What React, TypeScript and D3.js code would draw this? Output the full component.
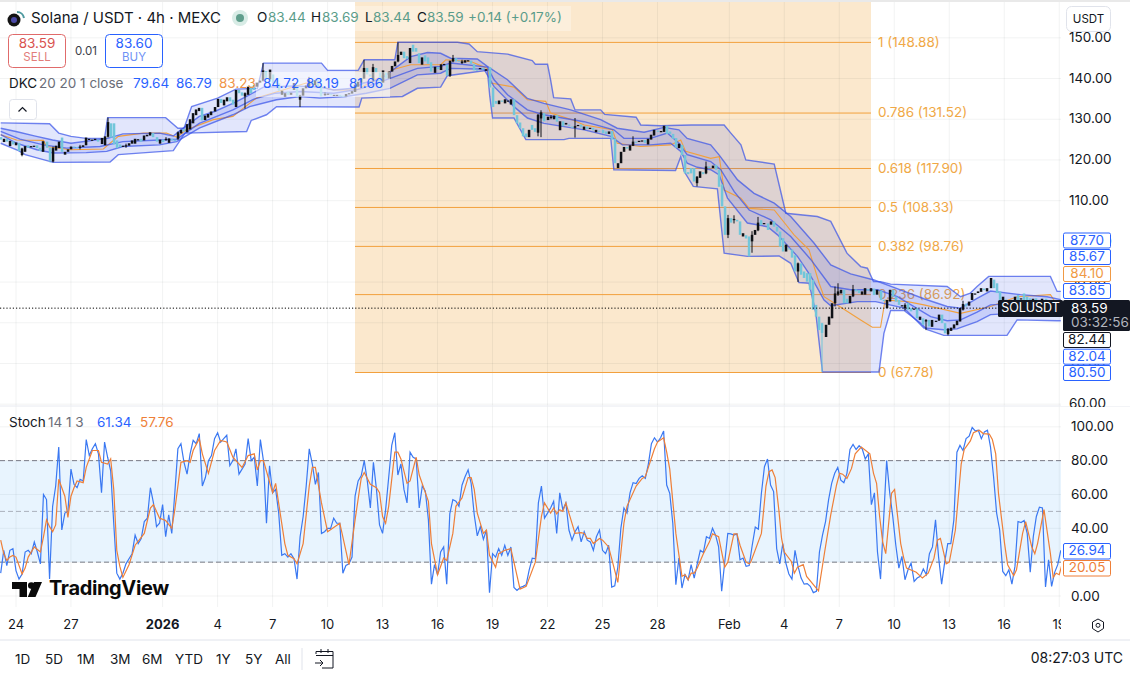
import React from "react";
import * as d3 from "d3";

const W = 1130, H = 676;
const FONT = "Inter, 'Liberation Sans', sans-serif";

const barOpens = [
125.6,124.4,125.2,123.4,124.6,123.6,124.2,121.2,122.0,123.6,
123.2,123.3,123.6,123.0,122.0,124.5,123,119.6,122.3,122.9,
125.5,121.3,122,122.6,123.3,123.2,123,123.2,123.6,125,
124.8,125.1,125,123.9,123.6,125.7,129,129,124.8,123.8,
123.2,123.4,123.5,124,124,125,125.2,124.8,125.8,126,
126.6,125.6,124,125,125,124.2,125.2,125,125.2,126.5,
127.6,126.8,127.5,129,131,132,132.8,129.8,130.4,131,
131.9,133,135,133.4,134.4,135.4,134.8,133,137.2,136.6,
135.6,136,138,138.4,138,139,139.5,141.8,139.8,141,
139.5,138.8,136,135.5,136.8,136,137.2,137.8,134.8,135.8,
137.6,138,139.3,138.4,139.5,138,136,136.1,136.2,135.9,
135.8,136,135.8,135.6,136.1,136.3,136.7,138,139,140,
142.6,141,139.7,142.6,141.5,139,141.5,140,141.7,143,
144.2,145.8,146.6,145.5,143.8,148.3,147.5,146.2,143.4,145.7,
145.2,144,141.4,142.8,142.1,143.4,143.4,140.7,144.2,145,
144.4,143.8,143.9,144.4,144.4,143.6,142.2,142.3,142.6,141.9,
142.8,137.8,134.5,133.7,134.6,133.9,134.5,133.6,134.9,131,
129.2,127.8,126.5,125.6,128.6,127.8,126.7,130.2,131.5,129.8,
130.5,130,131,127.3,129.5,128.7,128.7,128.2,127.9,128.4,
128.7,127.4,128.2,127.7,127.9,126.8,127.2,127.4,127,126.4,
127.1,125.2,118,119.2,122,123.2,122.3,123.5,124.5,124.5,
124.6,124.9,123.8,125,126,127.2,127,126.9,128.4,127,
126.4,125.4,122.9,123.7,121.2,117,118,118,114.3,115.6,
117,116.7,118.4,118,118.8,117.6,114,108.6,101.6,105.7,
105.3,105.3,104.9,101.2,101.5,101.2,100,101.6,102.7,105.2,
104.3,104.4,104.1,104.9,103.6,102.4,100.8,97.5,98.3,98,
96.6,92.6,94.6,92.6,92.2,92.2,90.5,84.4,81.5,79.9,
76.5,79.5,81.1,84.8,86.9,87.2,88.1,85.9,84.8,86.5,
88.2,88,86.9,86.9,88.3,87.7,88.4,86.9,87.9,85.6,
83.6,85.2,88.1,86.4,85.6,84.2,83.6,84.8,83.6,83.2,
83.6,80.7,81.1,80.3,80.7,79,80.2,80.5,82,79.9,
77.2,78,78.6,79.4,80.3,83.2,84.5,84.2,85.6,87,
87.3,87.6,88.4,87.7,88.5,90.6,89.7,87.7,85.2,85.6,
85.5,85,85.4,86.8,85.8,87.2,86.4,86,85.7,86,
85.2,85.4,85.9,84.6,83,84.6,83.4,83.44];

const barCloses = [
125,125.2,124.5,124.7,123.8,124.3,122.2,122.8,123.4,123,
123.4,123.5,122.9,122.2,124.6,123,119.8,122.9,123.5,124.5,
122,122,122.6,123.3,123,122.9,123.3,123.6,125.5,125.2,
125,125.2,124.5,125.4,125.8,129.3,125.5,123.8,122.9,123.2,
123.5,123.6,124.1,124.8,125.2,125.1,124.5,126,126.2,126.8,
125.6,124.5,125,124.4,125.2,125.3,124.8,124.6,126.8,127.4,
127,128.8,130,131.5,132.4,132.8,129.7,130.9,131.3,131.9,
133,135,134,134.8,135.4,134.4,133.6,137.2,136.4,135.8,
136.4,138,136.4,137.2,139,139.5,142,139.8,142.2,138.8,
138.8,137,137,136.4,136,136.5,138.9,135.5,135.8,137.6,
138.3,139.5,138.5,139.6,138,135.6,136.2,136.3,135.9,136,
136,135.6,135.5,136.2,136.4,136.9,138.5,139.2,140,142.6,
141,140.5,142.8,141.5,139,142,140,141.7,143.1,144.2,
145.8,146.6,145,144.8,147.5,146.6,146.6,143.8,145.2,144.2,
143.6,141.7,142.9,142.3,143.5,143.6,140.7,144.4,145,144.2,
144.2,144.2,144.5,144.5,143.6,142,142,142.6,142.2,142.3,
137.8,133,133.8,134.6,134.5,134.9,134.6,134.9,131,129,
127.8,125.8,125.6,127.4,127.4,126.9,131.1,131.7,129.5,130.6,
130.6,130.9,129.4,129.5,128.3,129.1,128.5,127.9,128.3,128.6,
128,128.2,127.6,127.9,127.3,127.4,127,126.6,126.4,127,
125,119.2,119.2,122,123.2,122.8,123.6,124.5,124.3,124.7,
124.8,124.2,125.2,126.2,127.4,127,127.1,128.4,126.4,126.4,
125.2,123,124,121.2,116.7,116.5,116.7,114.7,115.9,117.2,
116.5,118.4,118,118.6,117.6,113.4,108.6,101.6,105.7,104.6,
105.5,104.9,101.6,102,100.7,96.3,101.6,102.8,104.6,104,
104.5,102.8,104.9,103.6,102.4,98.7,97.5,99.2,98,96,
92.6,94.6,91.8,91,90.1,88.1,83.2,81.5,78.2,77.5,
79.5,81.5,84.8,87.2,87.7,88.1,84.8,84.8,86.6,88.2,
87.7,87.3,87.7,88.5,87.9,88.5,86.8,88.1,85.6,85.4,
85.6,88.1,86.4,85.2,84.4,84.3,84.4,83.2,82.8,83.5,
81.1,81.5,79.5,80.7,79.1,80.7,80.5,82,79.9,77.4,
78.5,78.8,79.6,80.5,83.6,84.6,84.2,85.2,87.3,87.2,
87.7,88.5,88,88.5,91,88.5,87.3,85.6,86.4,85.4,
85,85.6,86.4,85.6,86,85.6,85.4,85.5,85.9,85.2,
85.6,85.9,84.4,83.6,84.4,82.9,81.8,83.59];

const wickBars = [7,16,17,35,58,80,86,98,101,104,119,122,130,147,148,176,177,188,207,228,231,238,240,246,248,261,269,273,274,279,303,310,315,26,41,54,106,151,180,296,329,316];
const wickHighs = [123,123,123.3,130.4,127,136.6,143.8,136,140.4,140.2,144.6,143.6,148.9,141,145.8,131.3,132.2,130.3,125.8,116,119.6,106.5,106.4,102.5,106,94.8,80,88.9,89.7,89.3,80.9,78.7,85.4,123.7,124,125.6,136.6,144.6,131,84.8,85.9,84.8];
const wickLows = [120.9,119.4,119.4,125.5,124.9,132.6,139.3,133,138,137.6,140,139.2,144,140.4,144,125.8,125.6,125.5,123.4,113.5,116.5,100.8,104.4,97.2,102.5,90,67.9,84,86.6,86.3,78.2,76.9,83,122.6,123,124.7,135.8,143.6,130,83,85,83.8];

const upperBars = [0,16,19,23,28,34,35,54,58,60,62.5,71,77,84,86,105,107,117,119,129,130,149.5,153.3,156,166,174,175,179,180,181,186.6,188,196.4,197.7,208,209.5,216,226,236.8,239,242.3,243.9,253.2,254.8,257,267.3,271.7,277,281.5,283.7,285.7,288,291.3,309.8,314.2,317.4,319.6,323.4,343.6,345.8,347];
const upperVals = [129.1,128.9,126.6,125.8,125.3,125.3,130.4,130.4,127.8,127.8,133.1,135.2,137.4,137.6,143.8,143.8,142,142,144.6,144.6,148.9,148.9,148.5,146.6,146,144.4,143.5,143.5,139.7,135.3,135,132.3,132.3,131.2,130.5,128.6,128.4,128.6,128.6,126.6,123.7,120,119,113.9,106.9,106.1,104.9,97.1,93.8,93.4,90.1,90.1,89.5,88.9,86.4,87.3,88.9,91.4,91.4,87.7,87.7];

const innerUpBars = [0,5,11,17,23,35,40,52,56.5,59,65,70,76,80.5,86,90,96,104.5,109,115.4,118.7,124,129.9,134.2,139.7,144,147.3,156,159.3,165.9,172.4,177.8,186.6,196.4,201.8,210.6,217.1,222,224.7,232.4,235.2,241.2,246.6,253.2,258.6,266.2,271.7,278.2,285.9,294.5,302.2,309.8,314.2,319.6,324,333.8,342.5,347];
const innerUpVals = [127.8,127,125.9,124.9,124.1,125.3,126.4,126.6,125.9,127.4,130.7,131.9,133.9,135.6,137.9,138,138.2,137.9,137.2,137.6,138.9,139.7,143,145.4,146.4,146.2,145,144.8,143,139.7,135.1,133.9,132.3,129.9,127.8,126.8,128,127.4,125.3,123.7,121.2,115.1,111.8,109.4,106.1,99.6,94.2,92,90.5,88.1,85.9,84,83.6,86,87.8,86.9,86.4,85.67];

const midBars = [0,6.3,14,21.6,32.5,40,52,57.6,65,76,82.7,90,98,109,117.5,127.7,136.4,144,147.3,159.3,161.5,165.9,172.4,177.8,191,200.7,204,212.7,218.2,222,224.7,232.4,235.7,240.1,245,252.1,258.6,265.2,271.7,278.2,287,293.5,304.4,309.8,314.2,319.6,324,333.8,342.5,347];
const midVals = [127,125.1,123.7,122.9,123.3,124.5,124.9,125.1,129,132.3,134.9,136.4,136.8,136.4,137.4,140.1,142.5,143,143.8,142.8,139.7,136,132.3,131.1,129.4,127.4,125.3,125.3,126.6,124.1,121.3,119.6,117.6,112.2,107.7,105.3,101.2,95.5,88.9,88.1,88.1,86.4,81.5,80.5,80.7,82.6,84.4,84.8,84.4,83.85];

const innerLoBars = [0,5.2,11.8,17.2,28,34.7,40,52,57.6,65,76,81.5,90.3,98,104.5,113,119.7,127.4,136.4,144,147.3,158.2,161.5,168,172.4,177.8,191,199.7,203.5,212.7,219.3,222.6,224.7,228,232.4,235.2,237.9,244.4,251,254.3,260.8,265.2,269.5,271.7,280.4,286.4,295.7,302.2,308.7,313,319.6,324,331.6,342.5,347];
const innerLoVals = [126.2,124.1,122.5,121.7,121.8,122.1,123.3,123.7,124.5,127.8,131.1,133.1,134.8,135.6,135.2,135.6,136.4,137.6,140.9,141.3,142.5,142.3,138,133.1,130.3,129,127.4,125.8,123.7,123.7,124.1,122.1,119.2,118.2,117.6,116.3,110.6,104.5,103.6,101.6,96.3,91.4,85.6,84.2,85.2,85.2,83.6,78.7,78.3,78.5,80.3,82,82.3,82.1,82.04];

const lowerBars = [0,5.8,8,17.2,35.8,38.5,56.5,60.3,80.5,82,87,90.3,115.4,117.3,118.2,131.5,136.4,144,146.2,159.3,160.1,161,168,171.9,184.4,186,199.7,200.7,220.9,222.6,223.7,226.7,234.6,236.8,244.4,254.8,258.6,261.3,264.6,266.8,269,287.5,289.1,291.3,295.7,301.1,303.3,308.7,329.4,332.7,345.8,347];
const lowerVals = [124.1,122.3,121.3,119.4,119.5,121.3,122.3,126.6,127,129.7,131.1,133.1,133,133,135.2,135.6,137.6,137.9,140.7,142,135.6,130.3,130.3,125,125,125.3,125.3,117.6,117.4,120.8,117.2,113.5,112.9,97.1,96.3,96.4,94.6,89.9,89.7,82.4,67.9,67.9,77.4,83,83,79.9,78.3,76.9,76.9,80.7,80.5,80.5];

const orangeBars = [0,5.2,14,15,23,33.6,38.5,46.7,54.3,57.6,60.8,69.6,76,83.7,100,109,116.5,128.8,134.2,144,145.7,153.9,159.3,160.4,168,172.4,178.4,180,186.6,191,200.2,201.8,209.5,219.3,222.6,224.2,232.4,235.2,236.8,242.3,245,253.2,259.7,264.6,267.9,269.5,275,281.5,285.3,288,289.5,296.8,302.2,314.2,324,332.7,343.6,345.8,347];
const orangeVals = [126.2,124.9,124.8,123.3,122.5,122.7,125.8,126.6,126.6,125.6,127.4,129.9,130.7,135.2,138.9,137.2,137.2,142.3,143.4,143.4,144.6,144.2,142.5,138.9,137.9,134.8,134.4,131.5,130,128.6,127.4,124.1,123.3,123.7,124.9,122.1,120.4,120.8,112.6,110.6,108.1,107.7,101.6,97.9,89.7,86.4,83.8,80.7,78.9,78.9,85.6,85.2,84.4,82.3,84,86.4,86.9,84.4,84.1];

const stochK = [
13.5,27,18,27,28,15,10,13,26,27,25,32,26,19,60,57,10,53,65,88,39,49,50,75,66,64,69,68,92.5,83,
87,90,84,61,91,82,74,43,13.5,10,13.5,19,22,25,36,31,34,44,46,64,55,41,43,54,35,48,37,61,87,90,
79,72,84,92,90,96,65,70,80,83,93,96.5,91,93,95,77,80,87,72,75,78,93,80,82,65,92.5,80,43,77,61,
63,49,24,25,23,25,22,10,35,47,65,87,78,66,73,37,38,40,40,46,43,43,13.5,18,19,23,59,68,71,80,68,
52,79,63,42,37,51,70,89,96.5,71.5,78,63,55,85,82,81,52,65,62,45,7,18.5,12.5,26,29,7,48.5,57,56,53,
65.5,70.5,74.5,66.5,48,35.5,41,33.5,39,2,25,23,28,24,30,24,29,5,3.3,5,5.7,6.7,15.5,22.4,22,55,65,46,49,52,
56,37,61,51,55,39,33,38,41,32,38,33,32,27,35,39,27,25,30,5.3,6,17,40,52,49,61,67,66.5,69.5,71,
69.5,78,90,93.5,91,93.5,97.5,65.6,60.7,43,6.7,22.4,4.7,12.6,9.6,18.5,10.6,19,27,25.7,35,34,40,36,29,2.8,20,37,36.7,36,
36.7,21.4,22.4,17.5,18,
30,40.7,39.5,60.7,76.4,81,65.6,61.7,28,19,31,19.5,13,10,27,17.5,10.6,7,7.3,5.7,2,2.8,26,36,44,57,66.6,72.5,76,
68.5,67,72.5,86.6,89.6,86.6,88.8,87,81,84,54,61,26,10,45,80,61,47,30,16.5,23.4,9.6,15.5,19.5,8.6,10.6,11.6,16,12.6,25,
29,45,23,7,20,31,31,45,85,89,86,93,94.5,99.6,97.6,98,93,97,98,88,70.5,49,39,14.5,12,15.5,7,17.5,44,43.4,
44.6,37,14,35,47,52.5,52,5.3,21.4,5.7,14,18.5,27];

const stochDBars = [0,1,2,3,4,5,7,8,9,11,13,14,15,16,17,18,19,21,22,23,24,25,27,28,30,32,33,35,36,37,38,39,40,42,44,47,49,50,52,54,56,57,59,61,62,63,65,66,68,70,72,74,76,79,81,83,84,85,86,89,90,93,94,96,97,99,101,102,103,105,107,111,114,116,118,119,121,123,124,125,126,127,129,130,131,133,134,136,137,140,141,143,145,146,148,149,151,153,154,155,156,158,159,160,162,163,165,167,170,172,175,177,178,180,181,182,183,184,185,188,190,191,192,193,194,196,197,199,202,204,205,208,210,211,214,215,217,218,219,221,223,224,225,226,227,228,230,232,233,235,237,238,240,241,242,244,245,245.5,249,250.5,251.5,252.5,253.5,254.7,255.6,256.5,258.8,259.8,260.8,262.7,263.8,267.7,269.7,271.7,273.6,274.6,275.6,277,278.5,279.7,281.7,284.5,285.7,286.7,287.7,288.7,289.7,291.6,292.6,293.6,294.6,295.6,296.5,299.7,301.7,303.6,305.5,306.6,307.6,309.5,310.5,312.5,314.4,315.4,317.4,318.4,320.3,321.6,323.6,324.6,325.7,326.6,328.6,329.6,331.6,332.5,334.5,335.5,337.5,338.5,339.4,341.5,343.6,344.5,345.5,346.5,347.5];
const stochDVals = [33,25,21,23,24,23,13,16.5,23,29,26,35,45,41,38,42,69,59,46.5,59,64,68,67,76,86,86,79,78,81,63,27,17.5,11,18.5,30,37,52,54,46,44.6,40,51,79,80,79,86,93,84,72.5,86,92,91,82,76,83,84,74.5,80,80,61,66.6,31,24,22,19,31,65,76,76,55,38,43,18.5,45,69.5,73,66,64,61,47,43,53,85,85,81,66.6,68,82,71.5,56,31,12.6,22.4,21,37,53,58,70,70,63,49,37,39,24,17,25,27,28,4,5.7,20,47,55,49,52,48.5,51,50,55,37,37.5,37,34,34,31,34,33,29,8,43,53,65,69.5,70.5,87,91,93.5,85,75,37,11.6,12.6,9.6,13.5,13.5,16.5,25,32,36.7,35,17,20,36.7,36.7,30,20,19,20,37,65,73.5,74.5,70,51,34,26,20.4,13.5,17,18.5,11.6,3,26,48,65.6,72.5,72,69.5,75.4,84,88,84,72.5,66.6,47,32,25,60.7,63,47,31,22.4,16.5,14,10.6,13.5,22.4,33,34,19,20,39,78,86.6,91.7,96.5,98,96,95.7,92.5,84,60.7,31,18.5,12,15.5,37,44,29,25,31,51,25,11,13.5,12.6,19.5];

const priceTicks = [150,140,130,120,110,100,90,80,70,60];
const stochTicks = [100,80,60,40,20,0];
const timeTicks = [
  {b: 5,  t: "24"},{b: 23, t: "27"},{b: 53, t: "2026", bold: true},{b: 71, t: "4"},{b: 89, t: "7"},{b: 107, t: "10"},
  {b: 125, t: "13"},{b: 143, t: "16"},{b: 161, t: "19"},{b: 179, t: "22"},{b: 197, t: "25"},{b: 215, t: "28"},
  {b: 238.5, t: "Feb"},{b: 256.5, t: "4"},{b: 274.5, t: "7"},{b: 292.5, t: "10"},{b: 310.5, t: "13"},{b: 328.5, t: "16"},{b: 346.5, t: "19"},
];
const fibLevels = [
  {r:"1",v:148.88},{r:"0.786",v:131.52},{r:"0.618",v:117.90},{r:"0.5",v:108.33},{r:"0.382",v:98.76},{r:"0.236",v:86.92},{r:"0",v:67.78},
];
const axisTags = [
  {v:87.70,t:"87.70",c:"#2962ff"},{v:85.67,t:"85.67",c:"#2962ff"},{v:84.10,t:"84.10",c:"#f09a45"},{v:83.85,t:"83.85",c:"#2962ff"},
];
const lowerTags = [
  {y:340,t:"82.44",c:"#131722",b:"#131722"},{y:356.7,t:"82.04",c:"#2962ff",b:"#2962ff"},{y:373,t:"80.50",c:"#2962ff",b:"#2962ff"},
];
const upperTagY = [240.5,257,274,291];
const rangeBtns = [["1D",15],["5D",45],["1M",77],["3M",110],["6M",142],["YTD",175],["1Y",216],["5Y",245],["All",275]] as [string,number][];

const xBar = d3.scaleLinear().domain([0, 347]).range([0.7, 0.7 + 347 * 3.055]);
const yPrice = d3.scaleLinear().domain([67.78, 148.88]).range([372.5, 42.4]);
const yStoch = d3.scaleLinear().domain([0, 100]).range([596, 426.8]);

const C_UP = "#0f1116", C_DN = "#72c6da", BAND = "#3450e8", ORANGE = "#f2a03d", BLUE = "#2962ff", FIB_TXT = "#f0a846";

function pts(bars: number[], vals: number[]): [number, number][] {
  return bars.map((b, i) => [xBar(b), yPrice(vals[i])] as [number, number]);
}
const pl = d3.line();
function polygon(a: [number, number][], b: [number, number][]) {
  return (pl(a) || "") + "L" + (pl([...b].reverse()) || "").slice(1) + "Z";
}

export default function App() {
  const outerU = pts(upperBars, upperVals), outerL = pts(lowerBars, lowerVals);
  const innerU = pts(innerUpBars, innerUpVals), innerL = pts(innerLoBars, innerLoVals);
  const mid = pts(midBars, midVals), orange = pts(orangeBars, orangeVals);
  const fibX0 = 355, fibX1 = 871;
  const kPts = stochK.map((v, i) => [xBar(i), yStoch(v)] as [number, number]);
  const dPts = stochDBars.map((b, i) => [xBar(b), yStoch(stochDVals[i])] as [number, number]);
  const ty = (s: string, x: number, y: number, o: any = {}) => (
    <text x={x} y={y} fontSize={o.size ?? 13.5} fill={o.fill ?? "#131722"} fontWeight={o.w ?? 400} textAnchor={o.a ?? "start"} dominantBaseline="middle">{s}</text>
  );
  return (
    <svg width={W} height={H} viewBox={`0 0 ${W} ${H}`} style={{ position: "absolute", left: 0, top: 0, fontFamily: FONT, background: "#fff" }}>
      <defs>
        <clipPath id="pricePane"><rect x={0} y={0} width={1061} height={406} /></clipPath>
        <clipPath id="stochPane"><rect x={0} y={407} width={1061} height={200} /></clipPath>
        <clipPath id="timeAxis"><rect x={0} y={607} width={1061} height={33} /></clipPath>
      </defs>
      <rect x={0} y={0} width={W} height={H} fill="#fff" />
      <rect x={fibX0} y={2} width={fibX1 - fibX0} height={yPrice(67.78) - 2} fill="#fbe8cd" />
      {/* grid */}
      {priceTicks.map(t => <line key={t} x1={0} x2={1061} y1={yPrice(t)} y2={yPrice(t)} stroke="#2a2e39" strokeOpacity={0.06} />)}
      {timeTicks.map(t => <line key={t.t + t.b} x1={xBar(t.b)} x2={xBar(t.b)} y1={0} y2={607} stroke="#2a2e39" strokeOpacity={0.06} />)}
      {stochTicks.map(t => <line key={t} x1={0} x2={1061} y1={yStoch(t)} y2={yStoch(t)} stroke="#2a2e39" strokeOpacity={0.06} />)}
      {/* fib */}
      {fibLevels.map(f => (
        <g key={f.r}>
          <line x1={fibX0} x2={fibX1} y1={yPrice(f.v)} y2={yPrice(f.v)} stroke={ORANGE} strokeWidth={1} />
          {ty(`${f.r} (${f.v.toFixed(2)})`, 878, yPrice(f.v) + 0.5, { fill: FIB_TXT })}
        </g>
      ))}
      <g clipPath="url(#pricePane)">
        <path d={polygon(outerU, outerL)} fill={BAND} fillOpacity={0.14} />
        <path d={polygon(innerU, innerL)} fill={BAND} fillOpacity={0.15} />
        <path d={pl(orange) || ""} fill="none" stroke={ORANGE} strokeWidth={1.1} />
        {[outerU, outerL, innerU, innerL, mid].map((p, i) => (
          <path key={i} d={pl(p) || ""} fill="none" stroke={BAND} strokeOpacity={0.7} strokeWidth={1.4} />
        ))}
        {barOpens.map((o, i) => {
          const c = barCloses[i];
          const color = c >= o ? C_UP : C_DN;
          const x = Math.round(xBar(i));
          const top = yPrice(Math.max(o, c)), bot = yPrice(Math.min(o, c));
          const w = wickBars.indexOf(i);
          return (
            <g key={i}>
              {w >= 0 && <line x1={x} x2={x} y1={yPrice(wickHighs[w])} y2={yPrice(wickLows[w])} stroke={color} strokeWidth={1} />}
              <rect x={x - 1.2} y={top} width={2.5} height={Math.max(bot - top, 1.2)} fill={color} />
            </g>
          );
        })}
        <line x1={0} x2={1061} y1={yPrice(83.59)} y2={yPrice(83.59)} stroke="#000" strokeWidth={1} strokeDasharray="1.2 2" />
      </g>
      {/* stoch */}
      <rect x={0} y={yStoch(80)} width={1061} height={yStoch(20) - yStoch(80)} fill="#2196f3" fillOpacity={0.1} />
      <line x1={0} x2={1061} y1={yStoch(80)} y2={yStoch(80)} stroke="#787b86" strokeDasharray="5 3" />
      <line x1={0} x2={1061} y1={yStoch(50)} y2={yStoch(50)} stroke="#787b86" strokeOpacity={0.55} strokeDasharray="5 3" />
      <line x1={0} x2={1061} y1={yStoch(20)} y2={yStoch(20)} stroke="#787b86" strokeDasharray="5 3" />
      <g clipPath="url(#stochPane)">
        <path d={pl(kPts) || ""} fill="none" stroke="#3a78f2" strokeWidth={1.2} />
        <path d={pl(dPts) || ""} fill="none" stroke="#ee7f38" strokeWidth={1.2} />
      </g>
      {/* panes and axis separators */}
      <line x1={0} x2={W} y1={406} y2={406} stroke="#e8eaf0" />
      <line x1={0} x2={W} y1={640} y2={640} stroke="#e0e3eb" />
      <rect x={0} y={0} width={W} height={2} fill="#e9e9e9" />
      {/* price axis */}
      <rect x={1061} y={2} width={69} height={404} fill="#fff" />
      {priceTicks.map(t => <g key={t}>{ty(t.toFixed(2), 1069, yPrice(t) + 0.5)}</g>)}
      {/* stoch axis */}
      <rect x={1061} y={407} width={69} height={200} fill="#fff" />
      {[100,80,60,40,0].map(t => <g key={t}>{ty(t.toFixed(2), 1071, yStoch(t) + 1)}</g>)}
      {/* top right */}
      <rect x={1066.5} y={6.5} width={44} height={25} rx={5} fill="#fff" stroke="#e0e3eb" />
      {ty("USDT", 1088.5, 19.5, { a: "middle", size: 11.5 })}
      {/* price tags */}
      {axisTags.map((a, i) => (
        <g key={a.t}>
          <rect x={1063.5} y={upperTagY[i] - 7.5} width={47} height={15} rx={1.5} fill="#fff" stroke={a.c} />
          {ty(a.t, 1087, upperTagY[i] + 0.5, { fill: a.c, a: "middle" })}
        </g>
      ))}
      {lowerTags.map(a => (
        <g key={a.t}>
          <rect x={1063.5} y={a.y - 7.5} width={47} height={15} rx={1.5} fill="#fff" stroke={a.b} />
          {ty(a.t, 1087, a.y + 0.5, { fill: a.c, a: "middle" })}
        </g>
      ))}
      <rect x={998} y={300} width={65} height={17} rx={1.5} fill="#131722" />
      {ty("SOLUSDT", 1030.5, 309, { fill: "#fff", a: "middle", size: 12.5 })}
      <rect x={1063} y={300} width={67} height={31} rx={1.5} fill="#131722" />
      {ty("83.59", 1071, 309, { fill: "#fff" })}
      {ty("03:32:56", 1071, 323, { fill: "#b2b5be" })}
      {/* stoch tags */}
      <rect x={1063.5} y={543.5} width={47} height={15.5} rx={1.5} fill="#fff" stroke={BLUE} />
      {ty("26.94", 1087, 551.5, { fill: BLUE, a: "middle" })}
      <rect x={1063.5} y={560.5} width={47} height={15.5} rx={1.5} fill="#fff" stroke="#ee7f38" />
      {ty("20.05", 1087, 568.5, { fill: "#ee7f38", a: "middle" })}
      {/* time axis */}
      <g clipPath="url(#timeAxis)">
        {timeTicks.map(t => (
          <g key={t.t + t.b}>{ty(t.t, xBar(t.b), 625, { a: "middle", w: t.bold ? 700 : 400, size: 13 })}</g>
        ))}
      </g>
      <path d="M1098 619 L1103.5 622 V628.5 L1098 632 L1092.5 628.5 V622Z" fill="none" stroke="#131722" />
      <circle cx={1098} cy={625.3} r={2} fill="none" stroke="#131722" />
      {/* bottom bar */}
      {rangeBtns.map(([s, x]) => <g key={s}>{ty(s, x, 660.5)}</g>)}
      <line x1={302} x2={302} y1={648} y2={670} stroke="#e0e3eb" />
      <path d="M316 654 V651.5 H333 V668 H322 M316 655.5 H333 M321 649 V653 M328 649 V653 M315 663 H323 M320 660 L323 663 L320 666" fill="none" stroke="#131722" strokeWidth={1} />
      {ty("08:27:03 UTC", 1123, 659.5, { a: "end", size: 14 })}
      {/* title */}
      <rect x={355} y={6} width={216} height={25} fill="#fff" fillOpacity={0.3} />
      <circle cx={14} cy={20} r={6.5} fill="#141414" />
      <circle cx={14} cy={20} r={3} fill="#4b4aa8" />
      <path d="M17 12 A7 7 0 0 1 24 18" fill="none" stroke="#4f9aa0" strokeWidth={2} />
      {ty("Solana / USDT · 4h · MEXC", 31, 18.5, { size: 15 })}
      <circle cx={240} cy={18} r={8} fill="#d8ece6" />
      <circle cx={240} cy={18} r={4} fill="#5f9e8c" />
      {[["O","83.44",257,268],["H","83.69",311,322],["L","83.44",365,373],["C","83.59",417,427]].map(([k, v, x, vx]) => (
        <g key={k as string}>
          {ty(k as string, x as number, 18.5)}
          {ty(v as string, vx as number, 18.5, { fill: "#5a9c8a" })}
        </g>
      ))}
      {ty("+0.14 (+0.17%)", 468, 18.5, { fill: "#5a9c8a" })}
      <rect x={8.5} y={34.5} width={57} height={33} rx={4} fill="#fff" stroke="#e06b6b" />
      {ty("83.59", 37, 44, { a: "middle", fill: "#d9534f" })}
      {ty("SELL", 37, 58, { a: "middle", fill: "#e27d7a", size: 11.5 })}
      {ty("0.01", 86, 51.5, { a: "middle", size: 11.5, fill: "#3a3e49" })}
      <rect x={105.5} y={34.5} width={57} height={33} rx={4} fill="#fff" stroke={BLUE} />
      {ty("83.60", 134, 44, { a: "middle", fill: BLUE })}
      {ty("BUY", 134, 58, { a: "middle", fill: "#6d91f5", size: 11.5 })}
      {/* DKC legend */}
      <rect x={256} y={72} width={134} height={25} fill="#fff" fillOpacity={0.55} />
      {ty("DKC", 9, 84.5)}
      {ty("20 20 1 close", 39, 84.5, { fill: "#6a6d78" })}
      {[["79.64",133,BLUE],["86.79",176,BLUE],["83.23",219,"#f0954a"],["84.72",263,BLUE],["83.19",306,BLUE],["81.66",349,BLUE]].map(([v, x, c]) => (
        <g key={v as string}>{ty(v as string, x as number, 84.5, { fill: c as string })}</g>
      ))}
      <rect x={9.5} y={99.5} width={27} height={20} rx={3} fill="#fff" stroke="#e0e3eb" />
      <path d="M18.5 111.5 L22.5 107.5 L26.5 111.5" fill="none" stroke="#131722" strokeWidth={1.2} />
      {/* stoch legend */}
      {ty("Stoch", 9, 423.5)}
      {ty("14 1 3", 48, 423.5, { fill: "#6a6d78" })}
      {ty("61.34", 97, 423.5, { fill: BLUE })}
      {ty("57.76", 140, 423.5, { fill: "#ee7f38" })}
      {/* logo */}
      <path d="M12 582 H27 V597 H19.5 V589 H12Z" fill="#0a0a0a" />
      <circle cx={31.3} cy={585.6} r={3.3} fill="#0a0a0a" />
      <path d="M34 582 H42 L35.5 597 H27.8Z" fill="#0a0a0a" />
      <text x={49} y={590} fontSize={20} fontWeight={700} fill="#0a0a0a" dominantBaseline="middle" letterSpacing={-0.35}>TradingView</text>
    </svg>
  );
}
